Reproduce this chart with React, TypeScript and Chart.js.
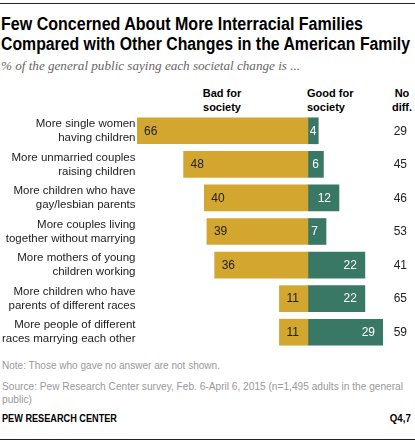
import React, { useEffect, useLayoutEffect, useRef } from "react";
import { Chart, registerables } from "chart.js";

Chart.register(...registerables);

const categories: string[][] = [
  ["More single women", "having children"],
  ["More unmarried couples", "raising children"],
  ["More children who have", "gay/lesbian parents"],
  ["More couples living", "together without marrying"],
  ["More mothers of young", "children working"],
  ["More children who have", "parents of different races"],
  ["More people of different", "races marrying each other"],
];
const badForSociety = [66, 48, 40, 39, 36, 11, 11];
const goodForSociety = [4, 6, 12, 7, 22, 22, 29];
const noDifference = [29, 45, 46, 53, 41, 65, 59];

const GOLD = "#D2A62F";
const GREEN = "#3A7866";
const FONT = '"Liberation Sans", Arial, sans-serif';

const valueLabels = {
  id: "valueLabels",
  afterDatasetsDraw(chart: any) {
    const ctx = chart.ctx;
    ctx.save();
    ctx.font = `12px ${FONT}`;
    ctx.textBaseline = "middle";
    const badMeta = chart.getDatasetMeta(0);
    badMeta.data.forEach((bar: any, i: number) => {
      ctx.fillStyle = "#222";
      ctx.textAlign = "left";
      ctx.fillText(String(badForSociety[i]), bar.x + 7, bar.y + 0.5);
    });
    const goodMeta = chart.getDatasetMeta(1);
    goodMeta.data.forEach((bar: any, i: number) => {
      const txt = String(goodForSociety[i]);
      const w = ctx.measureText(txt).width;
      ctx.fillStyle = "#fff";
      const right = bar.x - 8;
      if (right - w < bar.base + 2) {
        ctx.textAlign = "center";
        ctx.fillText(txt, (bar.x + bar.base) / 2, bar.y + 0.5);
      } else {
        ctx.textAlign = "right";
        ctx.fillText(txt, right, bar.y + 0.5);
      }
    });
    ctx.fillStyle = "#222";
    ctx.textAlign = "right";
    noDifference.forEach((v, i) => {
      ctx.fillText(String(v), 407, badMeta.data[i].y + 0.5);
    });
    ctx.restore();
  },
};

function Fit({ target, origin = "left top", style, children }: { target: number; origin?: string; style?: React.CSSProperties; children: React.ReactNode }) {
  const ref = useRef<HTMLSpanElement | null>(null);
  useLayoutEffect(() => {
    const el = ref.current;
    if (!el) return;
    el.style.transform = "none";
    const w = el.getBoundingClientRect().width;
    if (w > 0) el.style.transform = `scaleX(${target / w})`;
  }, [target]);
  return (
    <span ref={ref} style={{ display: "inline-block", whiteSpace: "nowrap", transformOrigin: origin, ...style }}>
      {children}
    </span>
  );
}

function BarChart() {
  const ref = useRef<HTMLCanvasElement | null>(null);
  useEffect(() => {
    if (!ref.current) return;
    const chart = new Chart(ref.current, {
      type: "bar",
      data: {
        labels: categories,
        datasets: [
          {
            label: "Bad for society",
            data: badForSociety.map((v) => -v),
            backgroundColor: GOLD,
            barThickness: 26,
          },
          {
            label: "Good for society",
            data: goodForSociety,
            backgroundColor: GREEN,
            barThickness: 26,
          },
        ],
      },
      options: {
        indexAxis: "y",
        animation: false,
        responsive: false,
        maintainAspectRatio: false,
        layout: { padding: { left: 0, right: 32, top: 0, bottom: 0 } },
        plugins: { legend: { display: false }, tooltip: { enabled: false } },
        scales: {
          x: {
            stacked: true,
            display: false,
            min: -66,
            max: 29,
          },
          y: {
            stacked: true,
            grid: { display: false, drawTicks: false },
            border: { display: false },
            ticks: {
              color: "#222",
              padding: 1.5,
              font: { family: FONT, size: 11.5, lineHeight: 14 / 11.5 },
            },
            afterFit: (scale: any) => {
              scale.width = 137;
              scale.paddingTop = 0;
              scale.paddingBottom = 0;
            },
          },
        },
      },
      plugins: [valueLabels],
    });
    return () => chart.destroy();
  }, []);
  return (
    <canvas
      ref={ref}
      width={415}
      height={235}
      style={{ position: "absolute", left: 0, top: 114, width: 415, height: 235 }}
    />
  );
}

export default function App() {
  const abs = (s: React.CSSProperties): React.CSSProperties => ({ position: "absolute", whiteSpace: "nowrap", ...s });
  const titleStyle: React.CSSProperties = { fontWeight: 700, fontSize: 18, lineHeight: "20px", color: "#000" };
  return (
    <div style={{ position: "absolute", left: 0, top: 0, width: 415, height: 444, background: "#fff", fontFamily: FONT, color: "#222" }}>
      <div style={abs({ left: 0, top: 3, width: 415, height: 1, background: "#222" })} />
      <div style={abs({ left: 1, top: 14, ...titleStyle })}>
        <Fit target={362}>Few Concerned About More Interracial Families</Fit>
      </div>
      <div style={abs({ left: 1, top: 34, ...titleStyle })}>
        <Fit target={409}>Compared with Other Changes in the American Family</Fit>
      </div>
      <div style={abs({ left: 1, top: 59, fontFamily: '"Liberation Serif", serif', fontStyle: "italic", fontSize: 13, lineHeight: "14px", color: "#666" })}>
        <Fit target={299}>% of the general public saying each societal change is ...</Fit>
      </div>
      <div style={abs({ left: 182, top: 86, width: 80, textAlign: "center", fontWeight: 700, fontSize: 11, lineHeight: "14px", color: "#000" })}>
        Bad for
        <br />
        society
      </div>
      <div style={abs({ left: 307, top: 86, fontWeight: 700, fontSize: 11, lineHeight: "14px", color: "#000" })}>
        Good for
        <br />
        society
      </div>
      <div style={abs({ left: 382, top: 86, width: 40, textAlign: "center", fontWeight: 700, fontSize: 11, lineHeight: "14px", color: "#000" })}>
        No
        <br />
        diff.
      </div>
      <BarChart />
      <div style={abs({ left: 2, top: 359, fontSize: 11, lineHeight: "13px", color: "#999" })}>
        <Fit target={218}>Note: Those who gave no answer are not shown.</Fit>
      </div>
      <div style={abs({ left: 2, top: 380, fontSize: 11, lineHeight: "13px", color: "#999" })}>
        <Fit target={401}>
          Source: Pew Research Center survey, Feb. 6-April 6, 2015 (n=1,495 adults in the general
          <br />
          public)
        </Fit>
      </div>
      <div style={abs({ left: 2, top: 412, fontWeight: 700, fontSize: 10.5, lineHeight: "13px", color: "#000" })}>
        <Fit target={115}>PEW RESEARCH CENTER</Fit>
      </div>
      <div style={abs({ right: 4, top: 412, fontWeight: 700, fontSize: 10.5, lineHeight: "13px", color: "#000" })}>
        <Fit target={21} origin="right top">Q4,7</Fit>
      </div>
      <div style={abs({ left: 0, top: 439, width: 415, height: 1, background: "#222" })} />
    </div>
  );
}
